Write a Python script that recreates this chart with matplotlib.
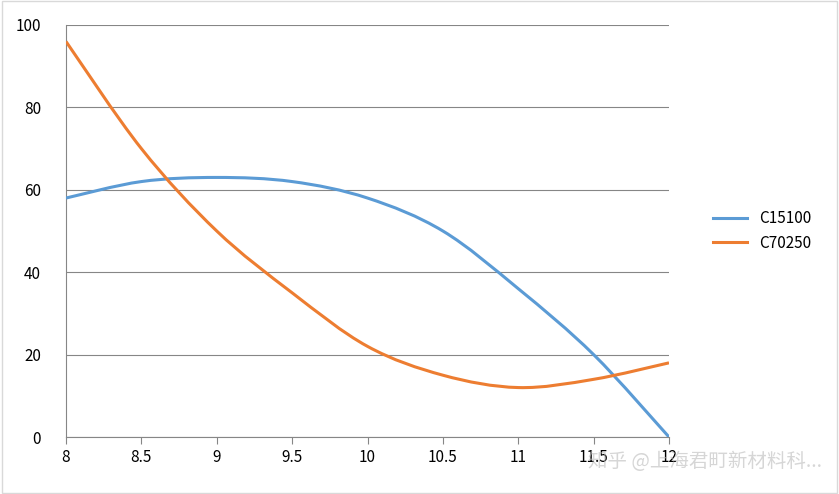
import matplotlib
matplotlib.use("Agg")
import matplotlib.pyplot as plt
from matplotlib.path import Path
from matplotlib.patches import PathPatch
import numpy as np

x = [8, 8.5, 9, 9.5, 10, 10.5, 11, 11.5, 12]
c15100 = [58, 62, 63, 62, 58, 50, 36, 20, 0]
c70250 = [96, 70, 50, 35, 22, 15, 12, 14, 18]
xticks = [8, 8.5, 9, 9.5, 10, 10.5, 11, 11.5, 12]
xticklabels = ["8", "8.5", "9", "9.5", "10", "10.5", "11", "11.5", "12"]

plt.rcParams['font.family'] = ['Noto Sans CJK SC', 'DejaVu Sans']
fig = plt.figure(figsize=(8.39, 4.94), dpi=100)
ax = fig.add_axes([66/839, 1-437/494, (669-66)/839, (437-25)/494])

def smooth(xs, ys, color, label):
    p = np.column_stack([xs, ys]).astype(float)
    n = len(p)
    verts = [p[0]]
    codes = [Path.MOVETO]
    for i in range(n-1):
        p0 = p[max(i-1, 0)]; p1 = p[i]; p2 = p[i+1]; p3 = p[min(i+2, n-1)]
        c1 = p1 + (p2 - p0)/6
        c2 = p2 - (p3 - p1)/6
        verts += [c1, c2, p2]
        codes += [Path.CURVE4]*3
    ax.add_patch(PathPatch(Path(verts, codes), fill=False, edgecolor=color, lw=2.2, zorder=3))
    ax.plot([], [], color=color, lw=2.2, label=label)

smooth(x, c15100, '#5B9BD5', 'C15100')
smooth(x, c70250, '#ED7D31', 'C70250')

ax.set_xlim(8, 12)
ax.set_ylim(0, 100)
ax.set_xticks(xticks)
ax.set_xticklabels(xticklabels)
ax.set_yticks(range(0, 101, 20))
ax.grid(axis='y', color='#868686', lw=0.8)
ax.set_axisbelow(True)
for s in ['top', 'right']:
    ax.spines[s].set_visible(False)
ax.spines['left'].set_color('#868686')
ax.spines['bottom'].set_color('#868686')
ax.tick_params(axis='y', length=0, labelsize=11, pad=18)
ax.tick_params(axis='x', length=5, direction='out', color='#868686', labelsize=11)
ax.legend(loc='center left', bbox_to_anchor=(1.05, 0.5), frameon=False, fontsize=11, handlelength=2.2)
fig.patches.append(plt.Rectangle((0.002, 0.002), 0.996, 0.996, transform=fig.transFigure,
                                 fill=False, edgecolor='#D9D9D9', lw=1))
fig.text(0.98, 0.065, "知乎 @上海君町新材料科...", ha='right', va='center', fontsize=14,
         color='#BBBBBB', alpha=0.6)
fig.savefig("out.png", dpi=100)
